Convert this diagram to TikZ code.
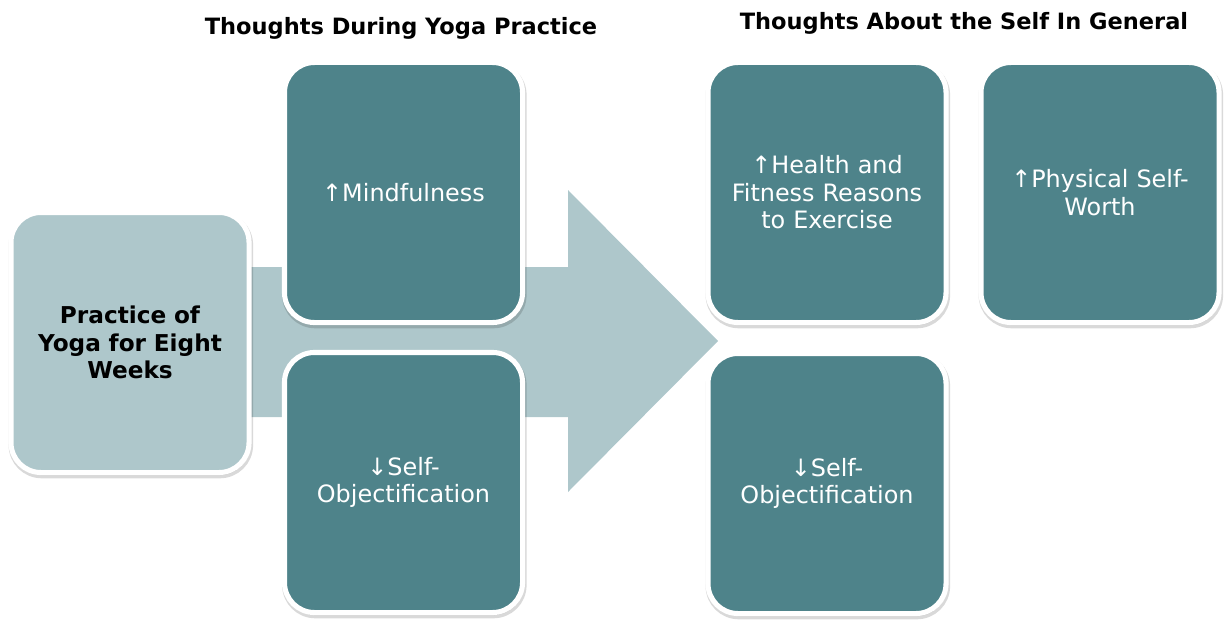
\documentclass[tikz,border=0pt]{standalone}
\usepackage{fontspec}
\setmainfont{DejaVu Sans}
\usepackage{xcolor}
\usetikzlibrary{shadows}

\definecolor{teal}{HTML}{4E838A}
\definecolor{paleteal}{HTML}{AEC7CB}

\begin{document}
\begin{tikzpicture}[
  x=0.025cm, y=-0.025cm,
  font=\fontsize{17}{19.5}\selectfont,
  card/.style={draw=white, line width=3.6pt, rounded corners=0.75cm, align=center,
    minimum width=5.95cm, minimum height=6.5cm, text width=5.6cm,
    drop shadow={shadow xshift=0.6pt, shadow yshift=-1.8pt, opacity=0.15,
      fill=black, draw=black, line width=4.6pt}},
  darkcard/.style={card, fill=teal, text=white},
  lightcard/.style={card, fill=paleteal, text=black, font=\fontsize{16.5}{19.5}\selectfont\bfseries},
  heading/.style={font=\fontsize{16}{19}\selectfont\bfseries}
]
\useasboundingbox (0,0) rectangle (1230,631);

% big arrow behind the cards
\fill[paleteal] (130,267) -- (568,267) -- (568,190) -- (718,341)
  -- (568,492) -- (568,417) -- (130,417) -- cycle;

\node[lightcard] (yoga) at (130,342.5) {Practice of\\Yoga for Eight\\Weeks};

\node[heading] (during) at (401,28) {Thoughts During Yoga Practice};
\node[darkcard] (mind) at (403.5,192.5) {↑Mindfulness};
\node[darkcard] (selfobjA) at (403.5,482.5) {↓Self-\\Objectification};

\node[heading] (general) at (964,23) {Thoughts About the Self In General};
\node[darkcard] (health) at (827,192.5) {↑Health and\\Fitness Reasons\\to Exercise};
\node[darkcard] (worth) at (1100,192.5) {↑Physical Self-\\Worth};
\node[darkcard] (selfobjB) at (827,483.5) {↓Self-\\Objectification};
\end{tikzpicture}
\end{document}
